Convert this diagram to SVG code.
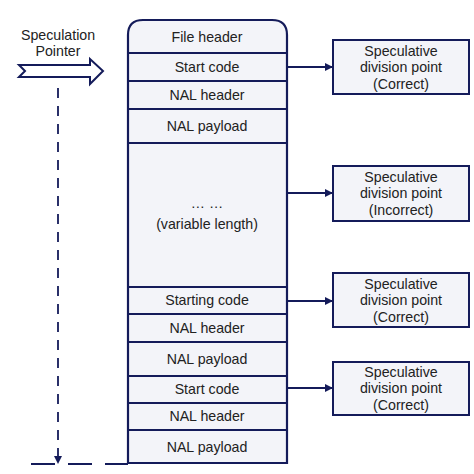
<svg xmlns="http://www.w3.org/2000/svg" width="474" height="474" viewBox="0 0 474 474">
<defs>
<style>
text{font-family:"Liberation Sans",Arial,sans-serif;font-size:14.2px;fill:#222;text-anchor:middle}
.cell{fill:#f3f4f9;stroke:#141b5a;stroke-width:2.2}
.sep{stroke:#141b5a;stroke-width:2.2}
.box{fill:#f3f4f9;stroke:#141b5a;stroke-width:2}
.conn{stroke:#141b5a;stroke-width:1.8;fill:none}
</style>
<marker id="ah" markerWidth="8" markerHeight="8" refX="7" refY="4" orient="auto" markerUnits="userSpaceOnUse">
<path d="M0,0 L8,4 L0,8 Z" fill="#141b5a"/>
</marker>
</defs>
<rect width="474" height="474" fill="#fff"/>
<g id="stream">
<path class="cell" d="M128,463 V35 Q128,20 143,20 H272 Q287,20 287,35 V463 Z"/>
<line class="sep" x1="128" y1="53" x2="287" y2="53"/>
<line class="sep" x1="128" y1="81" x2="287" y2="81"/>
<line class="sep" x1="128" y1="109" x2="287" y2="109"/>
<line class="sep" x1="128" y1="143" x2="287" y2="143"/>
<line class="sep" x1="128" y1="287" x2="287" y2="287"/>
<line class="sep" x1="128" y1="314" x2="287" y2="314"/>
<line class="sep" x1="128" y1="342" x2="287" y2="342"/>
<line class="sep" x1="128" y1="376" x2="287" y2="376"/>
<line class="sep" x1="128" y1="403" x2="287" y2="403"/>
<line class="sep" x1="128" y1="430" x2="287" y2="430"/>
<text x="207" y="42">File header</text>
<text x="207" y="72">Start code</text>
<text x="207" y="100">NAL header</text>
<text x="207" y="131">NAL payload</text>
<text x="207" y="208">… …</text>
<text x="207" y="229">(variable length)</text>
<text x="207" y="305">Starting code</text>
<text x="207" y="333">NAL header</text>
<text x="207" y="364">NAL payload</text>
<text x="207" y="394">Start code</text>
<text x="207" y="421">NAL header</text>
<text x="207" y="452">NAL payload</text>
</g>
<g id="pointer">
<text x="58" y="40">Speculation</text>
<text x="58" y="56">Pointer</text>
<path d="M19,65 H90 V59 L103,71 L90,84 V77 H19 L25,71 Z" fill="#fff" stroke="#141b5a" stroke-width="2"/>
</g>
<g id="d1"><rect class="box" x="333" y="40" width="136" height="54"/>
<text x="401" y="56">Speculative</text><text x="401" y="72">division point</text><text x="401" y="89">(Correct)</text></g>
<g id="d2"><rect class="box" x="333" y="166" width="136" height="55"/>
<text x="401" y="182">Speculative</text><text x="401" y="198">division point</text><text x="401" y="215">(Incorrect)</text></g>
<g id="d3"><rect class="box" x="333" y="273" width="136" height="54"/>
<text x="401" y="289">Speculative</text><text x="401" y="305">division point</text><text x="401" y="322">(Correct)</text></g>
<g id="d4"><rect class="box" x="333" y="362" width="136" height="53"/>
<text x="401" y="377">Speculative</text><text x="401" y="393">division point</text><text x="401" y="410">(Correct)</text></g>
<g id="connectors">
<line class="conn" x1="288" y1="67" x2="332" y2="67" marker-end="url(#ah)"/>
<line class="conn" x1="288" y1="193" x2="332" y2="193" marker-end="url(#ah)"/>
<line class="conn" x1="288" y1="301" x2="332" y2="301" marker-end="url(#ah)"/>
<line class="conn" x1="288" y1="388" x2="332" y2="388" marker-end="url(#ah)"/>
<line class="conn" x1="58" y1="88" x2="58" y2="463" stroke-dasharray="10,8" marker-end="url(#ah)"/>
<line class="conn" x1="31" y1="464" x2="128" y2="464" stroke-dasharray="24,13"/>
</g>
</svg>
